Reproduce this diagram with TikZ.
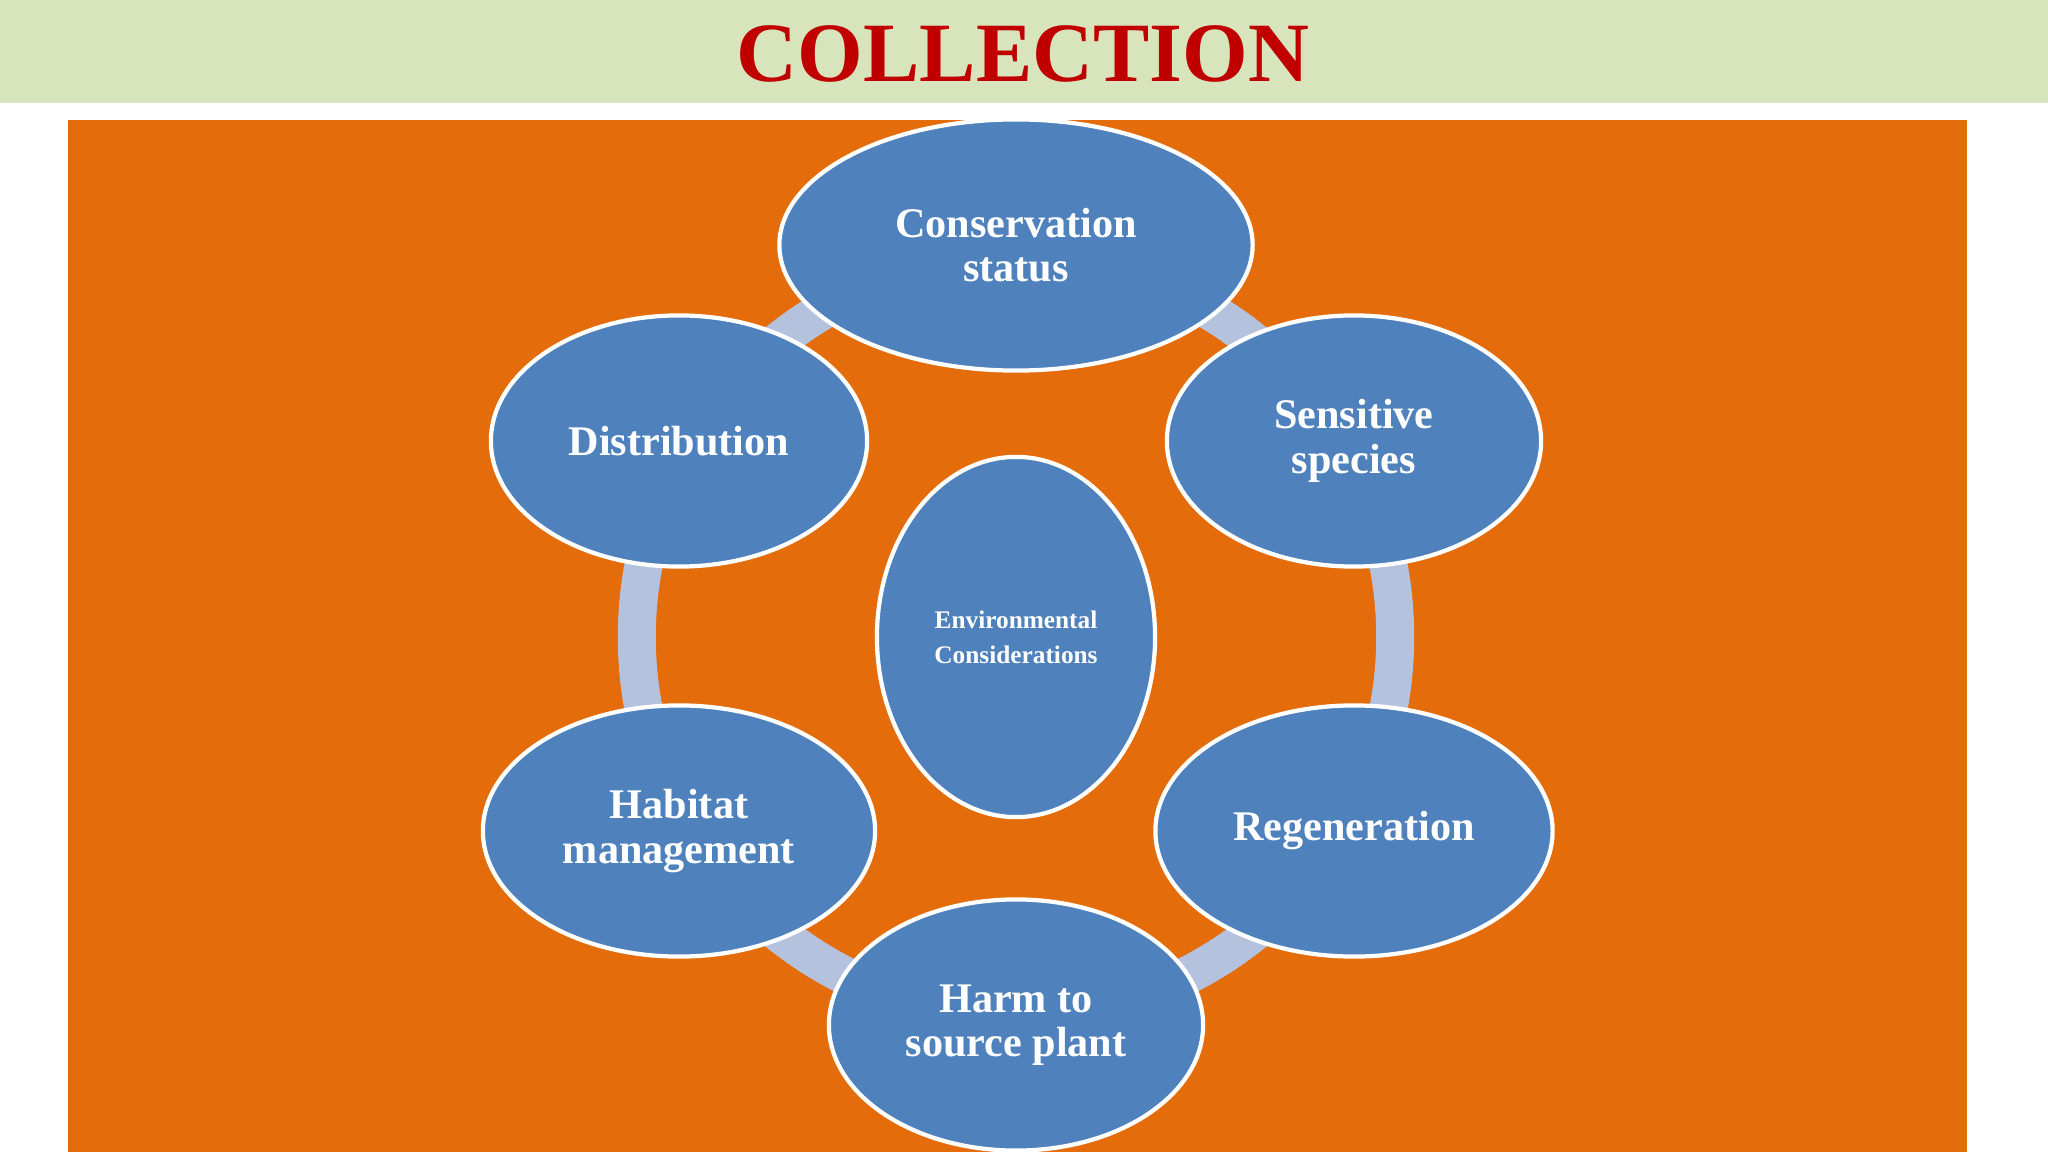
\documentclass[tikz,border=0pt]{standalone}
\usepackage{fontspec}
\setmainfont{Liberation Serif}
\usetikzlibrary{shapes.geometric}

\definecolor{bannergreen}{RGB}{216,228,188}
\definecolor{titlered}{RGB}{192,0,0}
\definecolor{slideorange}{RGB}{228,108,10}
\definecolor{bubbleblue}{RGB}{79,129,189}
\definecolor{ringblue}{RGB}{180,194,222}

\begin{document}
\begin{tikzpicture}[x=0.01cm, y=-0.01cm,
    bubble/.style={ellipse, draw=white, line width=1.2pt, fill=bubbleblue,
      text=white, inner sep=0pt, align=center, minimum height=2.51cm,
      font=\bfseries\fontsize{12}{12.6}\selectfont}]
    \useasboundingbox (0,0) rectangle (2048,1152);

    % slide background
    \fill[bannergreen] (0,0) rectangle (2048,103);
    \fill[slideorange] (68,120) rectangle (1967,1152);
    \node[text=titlered, font=\bfseries\fontsize{24}{28}\selectfont] (title) at (1023,54) {COLLECTION};

    \coordinate (O) at (1016,637);
    \draw[ringblue, line width=0.38cm] (O) circle (3.79cm);

    \node[bubble, minimum width=4.73cm] (cons) at (1016,245) {Conservation\\status};
    \node[bubble, minimum width=3.74cm] (sens) at (1354,441) {Sensitive\\species};
    \node[bubble, minimum width=3.97cm] (regen) at (1354,831) {Regeneration};
    \node[bubble, minimum width=3.74cm] (harm) at (1016,1025) {Harm to\\source plant};
    \node[bubble, minimum width=3.92cm] (habitat) at (679,831) {Habitat\\management};
    \node[bubble, minimum width=3.76cm] (distr) at (679,441) {Distribution};

    \node[bubble, minimum width=2.78cm, minimum height=3.60cm,
      font=\bfseries\fontsize{7.2}{10}\selectfont] (env) at (O) {Environmental\\Considerations};

\end{tikzpicture}
\end{document}
